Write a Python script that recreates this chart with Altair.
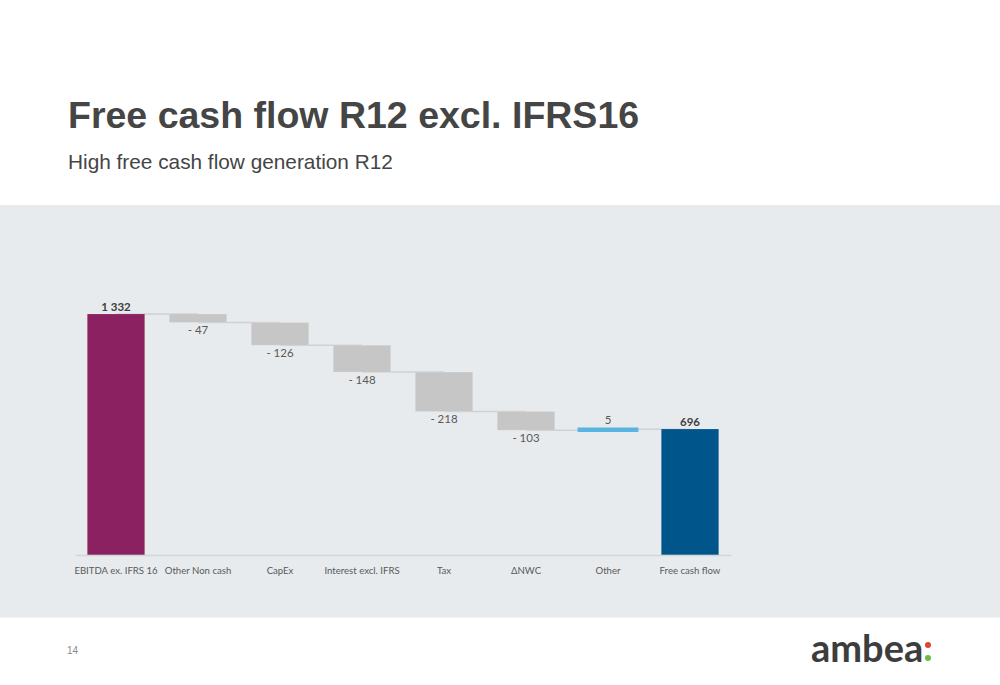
import altair as alt
import pandas as pd

categories = ["EBITDA ex. IFRS 16", "Other Non cash", "CapEx", "Interest excl. IFRS",
              "Tax", "ΔNWC", "Other", "Free cash flow"]
values = [1332, -47, -126, -148, -218, -103, 5, 696]
kinds = ["total", "neg", "neg", "neg", "neg", "neg", "pos", "total"]
labels = ["1 332", "- 47", "- 126", "- 148", "- 218", "- 103", "5", "696"]
colors = ["#8b2161", "#c6c6c6", "#c6c6c6", "#c6c6c6", "#c6c6c6", "#c6c6c6", "#5ab4e0", "#00568a"]

title_text = "Free cash flow R12 excl. IFRS16"
subtitle_text = "High free cash flow generation R12"
page_number = "14"

# waterfall geometry from values
starts, ends = [], []
running = 0
for i, v in enumerate(values):
    if kinds[i] == "total":
        starts.append(0)
        ends.append(v)
        running = v
    else:
        starts.append(running)
        running = running + v
        ends.append(running)

df = pd.DataFrame({
    "cat": categories, "start": starts, "end": ends, "kind": kinds,
    "label": labels, "color": colors,
})
df["top"] = df[["start", "end"]].max(axis=1)
df["bottom"] = df[["start", "end"]].min(axis=1)

conn = pd.DataFrame({
    "cat": categories[:-1],
    "next": categories[1:],
    "level": ends[:-1],
})

FONT = "Liberation Sans"
LFONT = "Lato"

xscale = alt.Scale(domain=categories, range=[75, 731], paddingInner=0.3, paddingOuter=0.15)
yscale = alt.Scale(domain=[0, 1332], range=[555, 314], nice=False, zero=False)
X = alt.X("cat:N", scale=xscale, sort=categories,
          axis=alt.Axis(title=None, labelFont=LFONT, labelFontSize=9.6, labelColor="#595959",
                        labelAngle=0, ticks=False, domainColor="#d3d6d9", domainWidth=1.5,
                        labelPadding=10, grid=False, zindex=1))

base = alt.Chart(df)

panel = alt.Chart(alt.Data(values=[{}])).mark_rect(color="#e8ebee").encode(
    x=alt.value(0), x2=alt.value(1000), y=alt.value(205), y2=alt.value(617.5)
)

connectors = alt.Chart(conn).mark_rule(color="#cfd2d5", strokeWidth=1.5).encode(
    x=X,
    x2="next:N",
    y=alt.Y("level:Q", scale=yscale, axis=None),
)

bars = base.transform_filter(alt.datum.kind != "pos").mark_bar(
    stroke="#ffffff", strokeOpacity=0.25, strokeWidth=0.5
).encode(
    x=X,
    y=alt.Y("start:Q", scale=yscale, axis=None),
    y2="end:Q",
    color=alt.Color("color:N", scale=None),
)

bar_pos = base.transform_filter(alt.datum.kind == "pos").mark_bar(strokeWidth=3.5).encode(
    x=X,
    y=alt.Y("start:Q", scale=yscale, axis=None),
    y2="end:Q",
    color=alt.Color("color:N", scale=None),
    stroke=alt.Stroke("color:N", scale=None),
)

lab_total = base.transform_filter(alt.datum.kind == "total").mark_text(
    font=LFONT, fontSize=11.5, fontWeight="bold", color="#404040", baseline="bottom", dy=-1
).encode(x=X, y=alt.Y("top:Q", scale=yscale, axis=None), text="label:N")

lab_pos = base.transform_filter(alt.datum.kind == "pos").mark_text(
    font=LFONT, fontSize=11.5, color="#595959", baseline="bottom", dy=-3
).encode(x=X, y=alt.Y("top:Q", scale=yscale, axis=None), text="label:N")

lab_neg = base.transform_filter(alt.datum.kind == "neg").mark_text(
    font=LFONT, fontSize=11.5, color="#595959", baseline="top", dy=2.5
).encode(x=X, y=alt.Y("bottom:Q", scale=yscale, axis=None), text="label:N")

deco = alt.Data(values=[{}])
title = alt.Chart(deco).mark_text(
    text=title_text, font=FONT, fontSize=37.5, fontWeight="bold", color="#454545",
    align="left", baseline="alphabetic"
).encode(x=alt.value(68), y=alt.value(128))
subtitle = alt.Chart(deco).mark_text(
    text=subtitle_text, font=FONT, fontSize=20.8, color="#454545",
    align="left", baseline="alphabetic"
).encode(x=alt.value(68), y=alt.value(169))
page = alt.Chart(deco).mark_text(
    text=page_number, font=FONT, fontSize=10, color="#8a8a8a", align="left", baseline="middle"
).encode(x=alt.value(67), y=alt.value(651))
logo = alt.Chart(deco).mark_text(
    text="ambea", font="Lato", fontSize=38, fontWeight="bold", color="#3d3d3d",
    align="left", baseline="alphabetic"
).encode(x=alt.value(811), y=alt.value(662))
dot_red = alt.Chart(deco).mark_circle(color="#e0432f", opacity=1, size=36).encode(
    x=alt.value(928), y=alt.value(645))
dot_green = alt.Chart(deco).mark_circle(color="#6cbb45", opacity=1, size=36).encode(
    x=alt.value(928), y=alt.value(658))

chart = alt.layer(
    panel, connectors, bars, bar_pos, lab_total, lab_pos, lab_neg,
    title, subtitle, page, logo, dot_red, dot_green
).properties(
    width=1000, height=555,
    autosize=alt.AutoSizeParams(type="none"),
    padding={"left": 0, "top": 0, "right": 0, "bottom": 130},
    background="#ffffff",
).configure_view(stroke=None)

chart.save("out.html", embed_options={"renderer": "svg", "actions": False})
